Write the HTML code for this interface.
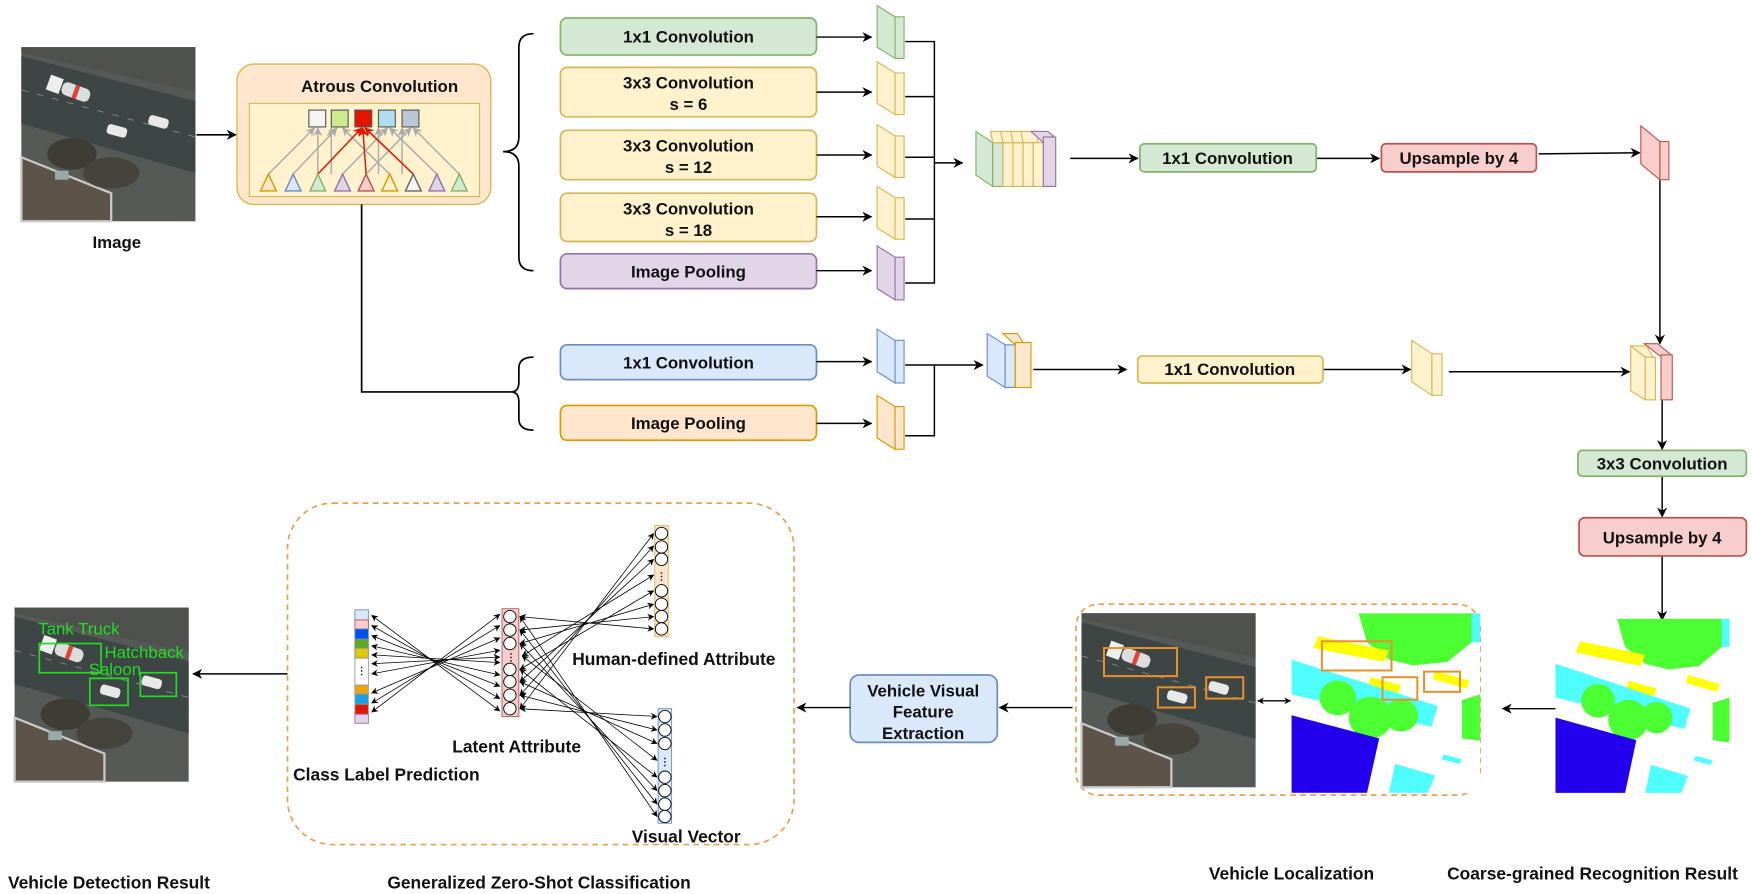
<!DOCTYPE html>
<html><head><meta charset="utf-8"><style>
html,body{margin:0;padding:0;background:#fff}
svg{display:block}
text{font-family:"Liberation Sans",Arial,sans-serif;font-weight:bold;fill:#111}
</style></head><body>
<svg width="1752" height="894" viewBox="0 0 1560 796" xmlns="http://www.w3.org/2000/svg">
<defs>
<marker id="a" viewBox="0 0 10 10" refX="9" refY="5" markerWidth="9" markerHeight="9" markerUnits="userSpaceOnUse" orient="auto"><path d="M0,0 L10,5 L0,10 L3,5 z" fill="#000"/></marker>
<marker id="s" viewBox="0 0 10 10" refX="9" refY="5" markerWidth="6" markerHeight="6" markerUnits="userSpaceOnUse" orient="auto-start-reverse"><path d="M0,0 L10,5 L0,10 L3,5 z" fill="#000"/></marker>
<marker id="g" viewBox="0 0 10 10" refX="9" refY="5" markerWidth="8" markerHeight="8" markerUnits="userSpaceOnUse" orient="auto"><path d="M0,0 L10,5 L0,10 L3,5 z" fill="#aaa"/></marker>
<marker id="r" viewBox="0 0 10 10" refX="9" refY="5" markerWidth="8" markerHeight="8" markerUnits="userSpaceOnUse" orient="auto"><path d="M0,0 L10,5 L0,10 L3,5 z" fill="#e51400"/></marker>
<g id="photo">
<rect width="155" height="155" fill="#555a57"/>
<polygon points="0,8 155,48 155,112 0,68" fill="#3d4545"/>
<polygon points="0,0 155,0 155,40 0,5" fill="#4f524c"/>
<line x1="0" y1="38" x2="155" y2="80" stroke="#888" stroke-width="0.8" stroke-dasharray="6 8"/>
<polygon points="0,98 80,130 80,155 0,155" fill="#5e5349" stroke="#c9c9c9" stroke-width="2"/>
<ellipse cx="45" cy="95" rx="22" ry="14" fill="#3f3d33"/>
<ellipse cx="80" cy="112" rx="25" ry="14" fill="#46443a"/>
<rect x="30" y="110" width="12" height="8" fill="#9aa"/>
<g transform="rotate(20 40 40)"><rect x="22" y="30" width="12" height="14" fill="#eee"/><rect x="35" y="31" width="26" height="12" rx="5" fill="#ddd"/><rect x="46" y="31" width="4" height="12" fill="#d43"/></g>
<g transform="rotate(15 85 75)"><rect x="76" y="70" width="18" height="9" rx="3" fill="#e8e8e8"/></g>
<g transform="rotate(15 122 67)"><rect x="113" y="62" width="18" height="9" rx="3" fill="#e8e8e8"/></g>
</g>
<g id="seg">
<rect width="155" height="155" fill="#fff"/>
<polygon points="55,0 150,0 148,25 128,42 100,45 80,40 62,25" fill="#4cff33"/>
<polygon points="148,0 155,0 155,25 148,25" fill="#4fffff"/>
<polygon points="22,20 80,32 76,42 18,30" fill="#ffff00"/>
<polygon points="65,55 90,62 88,69 63,62" fill="#ffff00"/>
<polygon points="118,50 146,58 144,65 116,57" fill="#ffff00"/>
<polygon points="0,40 120,80 115,98 0,70" fill="#4fffff"/>
<circle cx="38" cy="73" r="15" fill="#4cff33"/><circle cx="65" cy="90" r="18" fill="#4cff33"/><circle cx="90" cy="88" r="14" fill="#4cff33"/>
<polygon points="0,88 72,108 62,155 0,155" fill="#2200ee"/>
<polygon points="140,75 155,70 155,110 140,108" fill="#4cff33"/>
<polygon points="85,130 118,140 112,155 80,155" fill="#4fffff"/>
<polygon points="125,122 140,126 138,130 123,126" fill="#4fffff"/>
</g>
</defs>

<use href="#photo" x="19" y="42"/>
<text x="104" y="221" font-size="15" text-anchor="middle">Image</text>
<line x1="175" y1="120" x2="210" y2="120" stroke="#000" stroke-width="1.5" marker-end="url(#a)"/>

<rect x="211" y="57" width="226" height="125" rx="15" fill="#ffe6cc" stroke="#d6b656" stroke-width="1.2"/>
<text x="338" y="82" font-size="15" text-anchor="middle">Atrous Convolution</text>
<rect x="222" y="92" width="205" height="83" fill="#fff2cc" stroke="#d6b656" stroke-width="1"/>
<g stroke-width="1.3" fill="none">
<g stroke="#aaa" marker-end="url(#g)">
<line x1="239" y1="155" x2="280" y2="114"/><line x1="261" y1="155" x2="300" y2="114"/><line x1="283" y1="155" x2="283" y2="114"/>
<line x1="305" y1="155" x2="345" y2="114"/><line x1="326" y1="155" x2="366" y2="114"/><line x1="347" y1="155" x2="305" y2="114"/>
<line x1="368" y1="155" x2="326" y2="114"/><line x1="389" y1="155" x2="347" y2="114"/><line x1="409" y1="155" x2="368" y2="114"/>
<line x1="295" y1="155" x2="295" y2="114"/><line x1="337" y1="155" x2="337" y2="114"/><line x1="358" y1="155" x2="358" y2="114"/>
</g>
<g stroke="#e51400" marker-end="url(#r)">
<line x1="283" y1="155" x2="322" y2="114"/><line x1="326" y1="155" x2="323" y2="114"/><line x1="368" y1="155" x2="325" y2="114"/>
</g></g>
<rect x="275" y="98" width="15" height="15" fill="#f5f5f5" stroke="#555"/>
<rect x="295" y="98" width="15" height="15" fill="#cdeb8b" stroke="#555"/>
<rect x="316" y="98" width="15" height="15" fill="#e51400" stroke="#555"/>
<rect x="337" y="98" width="15" height="15" fill="#b1ddf0" stroke="#555"/>
<rect x="358" y="98" width="15" height="15" fill="#bac8d3" stroke="#555"/>
<g stroke-width="1.3">
<polygon points="232,170 239,155 246,170" fill="#ffe6cc" stroke="#d79b00"/>
<polygon points="254,170 261,155 268,170" fill="#dae8fc" stroke="#6c8ebf"/>
<polygon points="276,170 283,155 290,170" fill="#d5e8d4" stroke="#82b366"/>
<polygon points="298,170 305,155 312,170" fill="#e1d5e7" stroke="#9673a6"/>
<polygon points="319,170 326,155 333,170" fill="#f8cecc" stroke="#b85450"/>
<polygon points="340,170 347,155 354,170" fill="#fff2cc" stroke="#d79b00"/>
<polygon points="361,170 368,155 375,170" fill="#f5f5f5" stroke="#666"/>
<polygon points="382,170 389,155 396,170" fill="#e1d5e7" stroke="#9673a6"/>
<polygon points="402,170 409,155 416,170" fill="#d5e8d4" stroke="#82b366"/>
</g>
<polyline points="322,182 322,349 455,349" fill="none" stroke="#000" stroke-width="1.5"/>

<path d="M475,30 Q462,30 462,42 L462,122 Q462,135 448,135 Q462,135 462,148 L462,229 Q462,241 475,241" fill="none" stroke="#000" stroke-width="1.5"/>
<path d="M475,318 Q462,318 462,328 L462,340 Q462,349 455,349 Q462,349 462,358 L462,373 Q462,383 475,383" fill="none" stroke="#000" stroke-width="1.5"/>

<g stroke-width="1.5">
<rect x="499" y="16" width="228" height="33" rx="6" fill="#d5e8d4" stroke="#82b366"/>
<rect x="499" y="60" width="228" height="44" rx="6" fill="#fff2cc" stroke="#d6b656"/>
<rect x="499" y="116" width="228" height="44" rx="6" fill="#fff2cc" stroke="#d6b656"/>
<rect x="499" y="172" width="228" height="43" rx="6" fill="#fff2cc" stroke="#d6b656"/>
<rect x="499" y="226" width="228" height="31" rx="6" fill="#e1d5e7" stroke="#9673a6"/>
<rect x="499" y="307" width="228" height="31" rx="6" fill="#dae8fc" stroke="#6c8ebf"/>
<rect x="499" y="361" width="228" height="31" rx="6" fill="#ffe6cc" stroke="#d79b00"/>
</g>
<g font-size="15" text-anchor="middle">
<text x="613" y="38">1x1 Convolution</text>
<text x="613" y="79">3x3 Convolution</text><text x="613" y="98">s = 6</text>
<text x="613" y="135">3x3 Convolution</text><text x="613" y="154">s = 12</text>
<text x="613" y="191">3x3 Convolution</text><text x="613" y="210">s = 18</text>
<text x="613" y="247">Image Pooling</text>
<text x="613" y="328">1x1 Convolution</text>
<text x="613" y="382">Image Pooling</text>
</g>
<g stroke="#000" stroke-width="1.3" marker-end="url(#a)">
<line x1="727" y1="33" x2="776" y2="33"/><line x1="727" y1="82" x2="776" y2="82"/>
<line x1="727" y1="138" x2="776" y2="138"/><line x1="727" y1="193" x2="776" y2="193"/>
<line x1="727" y1="241" x2="776" y2="241"/><line x1="727" y1="322" x2="776" y2="322"/>
<line x1="727" y1="377" x2="776" y2="377"/>
</g>

<g stroke-width="1">
<polygon points="781,5 797,15 797,52 781,42" fill="#d5e8d4" stroke="#82b366"/><rect x="797" y="15" width="8" height="37" fill="#d5e8d4" stroke="#82b366"/>
<polygon points="781,55 797,65 797,102 781,92" fill="#fff2cc" stroke="#d6b656"/><rect x="797" y="65" width="8" height="37" fill="#fff2cc" stroke="#d6b656"/>
<polygon points="781,111 797,121 797,158 781,148" fill="#fff2cc" stroke="#d6b656"/><rect x="797" y="121" width="8" height="37" fill="#fff2cc" stroke="#d6b656"/>
<polygon points="781,166 797,176 797,213 781,203" fill="#fff2cc" stroke="#d6b656"/><rect x="797" y="176" width="8" height="37" fill="#fff2cc" stroke="#d6b656"/>
<polygon points="781,219 797,229 797,267 781,257" fill="#e1d5e7" stroke="#9673a6"/><rect x="797" y="229" width="8" height="38" fill="#e1d5e7" stroke="#9673a6"/>
<polygon points="781,293 797,303 797,341 781,331" fill="#dae8fc" stroke="#6c8ebf"/><rect x="797" y="303" width="8" height="38" fill="#dae8fc" stroke="#6c8ebf"/>
<polygon points="781,352 797,362 797,400 781,390" fill="#ffe6cc" stroke="#d79b00"/><rect x="797" y="362" width="8" height="38" fill="#ffe6cc" stroke="#d79b00"/>
</g>
<g fill="none" stroke="#000" stroke-width="1.3">
<polyline points="806,37 832,37 832,252 806,252"/>
<line x1="806" y1="86" x2="832" y2="86"/><line x1="806" y1="140" x2="832" y2="140"/><line x1="806" y1="195" x2="832" y2="195"/>
<line x1="832" y1="145" x2="857" y2="145" marker-end="url(#a)"/>
<polyline points="806,325 832,325 832,388 806,388"/>
<line x1="832" y1="325" x2="875" y2="325" marker-end="url(#a)"/>
</g>
<g stroke-width="1">
<polygon points="869,117 884,127 884,166 869,156" fill="#d5e8d4" stroke="#82b366"/><rect x="884" y="127" width="9" height="39" fill="#d5e8d4" stroke="#82b366"/>
<polygon points="882,117 897,117 897,127 884,127" fill="#fff2cc" stroke="#d6b656"/><rect x="893" y="127" width="9" height="39" fill="#fff2cc" stroke="#d6b656"/>
<polygon points="891,117 906,117 906,127 893,127" fill="#fff2cc" stroke="#d6b656"/><rect x="902" y="127" width="9" height="39" fill="#fff2cc" stroke="#d6b656"/>
<polygon points="900,117 915,117 915,127 902,127" fill="#fff2cc" stroke="#d6b656"/><rect x="911" y="127" width="9" height="39" fill="#fff2cc" stroke="#d6b656"/>
<polygon points="909,117 924,117 924,127 911,127" fill="#fff2cc" stroke="#d6b656"/><rect x="920" y="127" width="9" height="39" fill="#fff2cc" stroke="#d6b656"/>
<polygon points="918,117 933,117 938,121 929,127" fill="#e1d5e7" stroke="#9673a6"/><rect x="929" y="122" width="11" height="44" fill="#e1d5e7" stroke="#9673a6"/>
</g>
<g stroke-width="1">
<polygon points="879,297 895,307 895,345 879,335" fill="#dae8fc" stroke="#6c8ebf"/><rect x="895" y="307" width="9" height="38" fill="#dae8fc" stroke="#6c8ebf"/>
<polygon points="893,297 906,297 911,305 904,307" fill="#ffe6cc" stroke="#d79b00"/><rect x="904" y="305" width="14" height="40" fill="#ffe6cc" stroke="#d79b00"/>
</g>

<g stroke="#000" stroke-width="1.3" marker-end="url(#a)">
<line x1="953" y1="141" x2="1013" y2="141"/>
<line x1="1172" y1="141" x2="1228" y2="141"/>
<line x1="1370" y1="137" x2="1460" y2="136"/>
<line x1="1478" y1="160" x2="1478" y2="306"/>
<line x1="920" y1="329" x2="1003" y2="329"/>
<line x1="1178" y1="329" x2="1256" y2="329"/>
<line x1="1290" y1="331" x2="1451" y2="331"/>
<line x1="1480" y1="355" x2="1480" y2="400"/>
<line x1="1480" y1="424" x2="1480" y2="460"/>
<line x1="1480" y1="495" x2="1480" y2="552"/>
</g>
<rect x="1015" y="128" width="157" height="25" rx="4" fill="#d5e8d4" stroke="#82b366" stroke-width="1.5"/>
<text x="1093" y="146" font-size="15" text-anchor="middle">1x1 Convolution</text>
<rect x="1230" y="128" width="138" height="25" rx="4" fill="#f8cecc" stroke="#b85450" stroke-width="1.5"/>
<text x="1299" y="146" font-size="15" text-anchor="middle">Upsample by 4</text>
<rect x="1013" y="317" width="165" height="24" rx="4" fill="#fff2cc" stroke="#d6b656" stroke-width="1.5"/>
<text x="1095" y="334" font-size="15" text-anchor="middle">1x1 Convolution</text>
<rect x="1405" y="401" width="150" height="23" rx="4" fill="#d5e8d4" stroke="#82b366" stroke-width="1.5"/>
<text x="1480" y="418" font-size="15" text-anchor="middle">3x3 Convolution</text>
<rect x="1406" y="461" width="149" height="34" rx="5" fill="#f8cecc" stroke="#b85450" stroke-width="1.5"/>
<text x="1480" y="484" font-size="15" text-anchor="middle">Upsample by 4</text>
<g stroke-width="1">
<polygon points="1461,112 1478,126 1478,160 1461,146" fill="#f8cecc" stroke="#b85450"/><rect x="1478" y="126" width="8" height="34" fill="#f8cecc" stroke="#b85450"/>
<polygon points="1257,303 1275,315 1275,352 1257,340" fill="#fff2cc" stroke="#d6b656"/><rect x="1275" y="315" width="9" height="37" fill="#fff2cc" stroke="#d6b656"/>
<polygon points="1464,306 1476,306 1488,316 1478,317" fill="#f8cecc" stroke="#b85450"/><rect x="1479" y="316" width="10" height="40" fill="#f8cecc" stroke="#b85450"/>
<polygon points="1452,308 1466,308 1472,318 1465,318" fill="#fff2cc" stroke="#d6b656"/><path d="M1452,308 L1465,318 L1465,356 L1452,348 Z" fill="#fff2cc" stroke="#d6b656"/><rect x="1465" y="318" width="9" height="38" fill="#fff2cc" stroke="#d6b656"/>
</g>

<use href="#seg" x="1385" y="551"/>
<line x1="1385" y1="631" x2="1338" y2="631" stroke="#000" stroke-width="1.3" marker-end="url(#a)"/>
<rect x="958" y="538" width="360" height="170" rx="20" fill="none" stroke="#e8a050" stroke-width="1.5" stroke-dasharray="5 4"/>
<use href="#photo" x="963" y="546"/>
<g fill="none" stroke="#e8902a" stroke-width="1.8">
<rect x="983" y="577" width="65" height="25"/><rect x="1031" y="612" width="33" height="18"/><rect x="1074" y="603" width="33" height="19"/>
</g>
<line x1="1120" y1="624" x2="1149" y2="624" stroke="#000" stroke-width="1.3" marker-end="url(#s)" marker-start="url(#s)"/>
<svg x="1150" y="546" width="168" height="160" viewBox="0 0 155 155" preserveAspectRatio="none"><use href="#seg"/></svg>
<g fill="none" stroke="#e8902a" stroke-width="1.8">
<rect x="1177" y="571" width="62" height="26"/><rect x="1231" y="603" width="31" height="20"/><rect x="1268" y="598" width="32" height="18"/>
</g>
<text x="1150" y="783" font-size="15.5" text-anchor="middle">Vehicle Localization</text>
<text x="1418" y="783" font-size="15.5" text-anchor="middle">Coarse-grained Recognition Result</text>
<line x1="955" y1="630" x2="890" y2="630" stroke="#000" stroke-width="1.3" marker-end="url(#a)"/>
<rect x="757" y="601" width="131" height="60" rx="8" fill="#dae8fc" stroke="#6c8ebf" stroke-width="1.5"/>
<g font-size="15" text-anchor="middle"><text x="822" y="620">Vehicle Visual</text><text x="822" y="639">Feature</text><text x="822" y="658">Extraction</text></g>
<line x1="757" y1="630" x2="710" y2="630" stroke="#000" stroke-width="1.3" marker-end="url(#a)"/>

<rect x="256" y="448" width="451" height="304" rx="40" fill="none" stroke="#e8a050" stroke-width="1.5" stroke-dasharray="5 4"/>
<line x1="256" y1="600" x2="172" y2="600" stroke="#000" stroke-width="1.3" marker-end="url(#a)"/>
<g stroke="#000" stroke-width="0.7" marker-end="url(#s)" marker-start="url(#s)">
<line x1="331" y1="548" x2="445" y2="633"/><line x1="331" y1="557" x2="445" y2="622"/><line x1="331" y1="566" x2="445" y2="611"/>
<line x1="331" y1="575" x2="445" y2="601"/><line x1="331" y1="583" x2="445" y2="590"/><line x1="331" y1="600" x2="445" y2="579"/>
<line x1="331" y1="617" x2="445" y2="568"/><line x1="331" y1="626" x2="445" y2="557"/><line x1="331" y1="634" x2="445" y2="547"/>
<line x1="331" y1="591" x2="445" y2="585"/>
<line x1="463" y1="549" x2="582" y2="560"/><line x1="463" y1="561" x2="582" y2="549"/><line x1="463" y1="573" x2="582" y2="538"/>
<line x1="463" y1="596" x2="582" y2="526"/><line x1="463" y1="607" x2="582" y2="498"/><line x1="463" y1="619" x2="582" y2="486"/>
<line x1="463" y1="631" x2="582" y2="475"/><line x1="465" y1="584" x2="582" y2="512"/>
<line x1="463" y1="549" x2="585" y2="727"/><line x1="463" y1="561" x2="585" y2="716"/><line x1="463" y1="573" x2="585" y2="704"/>
<line x1="463" y1="596" x2="585" y2="692"/><line x1="463" y1="607" x2="585" y2="662"/><line x1="463" y1="619" x2="585" y2="650"/>
<line x1="463" y1="631" x2="585" y2="638"/><line x1="465" y1="584" x2="585" y2="677"/>
</g>
<g stroke-width="0.8">
<rect x="316" y="543" width="12" height="9" fill="#dae8fc" stroke="#6c8ebf"/>
<rect x="316" y="552" width="12" height="8" fill="#f8cecc" stroke="#b85450"/>
<rect x="316" y="560" width="12" height="9" fill="#0050ef" stroke="#6c8ebf"/>
<rect x="316" y="569" width="12" height="8" fill="#60a917" stroke="#6c8ebf"/>
<rect x="316" y="577" width="12" height="9" fill="#e3c800" stroke="#6c8ebf"/>
<rect x="316" y="586" width="12" height="24" fill="#fff" stroke="#999"/>
<rect x="316" y="610" width="12" height="8" fill="#f0a30a" stroke="#999"/>
<rect x="316" y="618" width="12" height="9" fill="#1ba1e2" stroke="#999"/>
<rect x="316" y="627" width="12" height="9" fill="#e51400" stroke="#999"/>
<rect x="316" y="636" width="12" height="8" fill="#e1d5e7" stroke="#9673a6"/>
<rect x="447" y="542" width="15" height="96" fill="#f8cecc" stroke="#b85450"/>
<rect x="583" y="468" width="12" height="99" fill="#ffe6cc" stroke="#d6b656"/>
<rect x="586" y="631" width="12" height="102" fill="#dae8fc" stroke="#6c8ebf"/>
</g>
<text x="322" y="600" font-size="9" text-anchor="middle" font-weight="normal">⋮</text>
<text x="455" y="588" font-size="9" text-anchor="middle" font-weight="normal">⋮</text>
<text x="589" y="516" font-size="9" text-anchor="middle" font-weight="normal">⋮</text>
<text x="592" y="681" font-size="9" text-anchor="middle" font-weight="normal">⋮</text>
<g fill="#fff" stroke="#000" stroke-width="0.8">
<circle cx="454" cy="549" r="5.5"/><circle cx="454" cy="561" r="5.5"/><circle cx="454" cy="573" r="5.5"/><circle cx="454" cy="596" r="5.5"/><circle cx="454" cy="607" r="5.5"/><circle cx="454" cy="619" r="5.5"/><circle cx="454" cy="631" r="5.5"/>
<circle cx="589" cy="475" r="5.5"/><circle cx="589" cy="487" r="5.5"/><circle cx="589" cy="498" r="5.5"/><circle cx="589" cy="526" r="5.5"/><circle cx="589" cy="538" r="5.5"/><circle cx="589" cy="549" r="5.5"/><circle cx="589" cy="560" r="5.5"/>
<circle cx="592" cy="638" r="5.5"/><circle cx="592" cy="650" r="5.5"/><circle cx="592" cy="662" r="5.5"/><circle cx="592" cy="692" r="5.5"/><circle cx="592" cy="704" r="5.5"/><circle cx="592" cy="716" r="5.5"/><circle cx="592" cy="727" r="5.5"/>
</g>
<text x="600" y="592" font-size="15.5" text-anchor="middle">Human-defined Attribute</text>
<text x="460" y="670" font-size="15.5" text-anchor="middle">Latent Attribute</text>
<text x="344" y="695" font-size="15.5" text-anchor="middle">Class Label Prediction</text>
<text x="611" y="750" font-size="15.5" text-anchor="middle">Visual Vector</text>

<use href="#photo" x="13" y="541"/>
<g fill="none" stroke="#22dd22" stroke-width="1.5">
<rect x="35" y="573" width="55" height="26"/><rect x="80" y="604" width="34" height="24"/><rect x="125" y="599" width="32" height="21"/>
</g>
<g font-size="15">
<text x="34" y="565" style="fill:#22dd22;font-weight:normal">Tank Truck</text>
<text x="93" y="586" style="fill:#22dd22;font-weight:normal">Hatchback</text>
<text x="79" y="601" style="fill:#22dd22;font-weight:normal">Saloon</text>
</g>
<text x="97" y="791" font-size="15.5" text-anchor="middle">Vehicle Detection Result</text>
<text x="480" y="791" font-size="15.5" text-anchor="middle">Generalized Zero-Shot Classification</text>
</svg>
</body></html>
